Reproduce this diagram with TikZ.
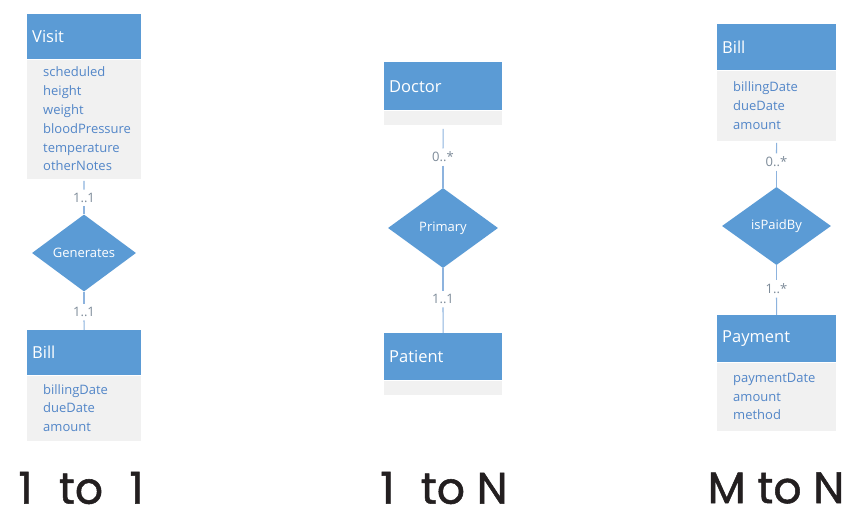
\documentclass[tikz,border=0pt]{standalone}
\usepackage{fontspec}
\setmainfont{Open Sans}
\newfontfamily\titlefont[FakeBold=1.2]{Poppins}
\usepackage{xcolor}
\definecolor{ent}{HTML}{5B9BD5}
\definecolor{attr}{HTML}{5286C8}
\definecolor{pale}{HTML}{F1F1F1}
\definecolor{wire}{HTML}{8DB3DE}
\definecolor{mult}{HTML}{7D8B99}
\definecolor{ink}{HTML}{231F20}
\usetikzlibrary{positioning,shapes.geometric}
\tikzset{
  ehead/.style={fill=ent,anchor=north west,inner xsep=5pt,inner ysep=0pt,align=left,
    text=white,font=\fontsize{16.5}{18}\selectfont},
  eattr/.style={fill=pale,anchor=north west,inner sep=0pt,align=left,text=attr,
    font=\fontsize{13}{18.8}\selectfont,execute at begin node={\leftskip=16pt}},
  rel/.style={diamond,fill=ent,inner sep=0pt,text=white,font=\fontsize{13}{14}\selectfont},
  card/.style={inner sep=3.5pt,text=mult,font=\fontsize{13}{14}\selectfont},
  conn/.style={draw=wire,line width=1.1pt},
  kind/.style={text=ink,font=\titlefont\fontsize{44}{50}\selectfont},
}
\begin{document}
\begin{tikzpicture}[x=1pt,y=-1pt]
\useasboundingbox[fill=white] (0,0) rectangle (860,526);
% 1 to 1
\node[ehead,text width=104pt,minimum height=45pt] (visit) at (27,14) {Visit};
\node[eattr,text width=114pt,minimum height=119pt] (visitA) at (visit.south west)
  {scheduled\\height\\weight\\bloodPressure\\temperature\\otherNotes};
\node[rel,minimum width=104pt,minimum height=77pt] (gen) at (84,253) {Generates};
\node[ehead,text width=104pt,minimum height=45pt] (bill) at (27,330) {Bill};
\node[eattr,text width=114pt,minimum height=65pt] (billA) at (bill.south west)
  {billingDate\\dueDate\\amount};
\node[card] (c1) at (84,198) {1..1};
\node[card] (c2) at (84,312) {1..1};
\draw[conn,shorten <=2pt] (visitA) -- (c1);
\draw[conn] (c1) -- (gen);
\draw[conn] (gen) -- (c2);
\draw[conn] (c2) -- (bill);
% 1 to N
\node[ehead,text width=108pt,minimum height=48pt] (doc) at (384,62) {Doctor};
\node[eattr,minimum width=118pt,minimum height=14pt] (docA) at (doc.south west) {};
\node[rel,minimum width=110pt,minimum height=80pt] (prim) at (443,228) {Primary};
\node[ehead,text width=108pt,minimum height=47pt] (pat) at (384,333) {Patient};
\node[eattr,minimum width=118pt,minimum height=14pt] (patA) at (pat.south west) {};
\node[card] (c3) at (443,157) {0..*};
\node[card] (c4) at (443,299) {1..1};
\draw[conn,shorten <=4pt] (docA) -- (c3);
\draw[conn] (c3) -- (prim);
\draw[conn] (prim) -- (c4);
\draw[conn] (c4) -- (pat);
% M to N
\node[ehead,text width=109pt,minimum height=46pt] (bill2) at (717,24) {Bill};
\node[eattr,text width=119pt,minimum height=70pt] (bill2A) at (bill2.south west)
  {billingDate\\dueDate\\amount};
\node[rel,minimum width=109pt,minimum height=78pt] (paid) at (776.5,226) {isPaidBy};
\node[ehead,text width=109pt,minimum height=47pt] (pay) at (717,315) {Payment};
\node[eattr,text width=119pt,minimum height=68pt] (payA) at (pay.south west)
  {paymentDate\\amount\\method};
\node[card] (c5) at (776.5,162) {0..*};
\node[card] (c6) at (776.5,289) {1..*};
\draw[conn,shorten <=2pt] (bill2A) -- (c5);
\draw[conn] (c5) -- (paid);
\draw[conn] (paid) -- (c6);
\draw[conn] (c6) -- (pay);
% captions
\node[kind] (k1) at (81,488) {1\,\, to\,\, 1};
\node[kind] (k2) at (444,488) {1\,\, to N};
\node[kind] (k3) at (776,488) {M to N};
\end{tikzpicture}
\end{document}
